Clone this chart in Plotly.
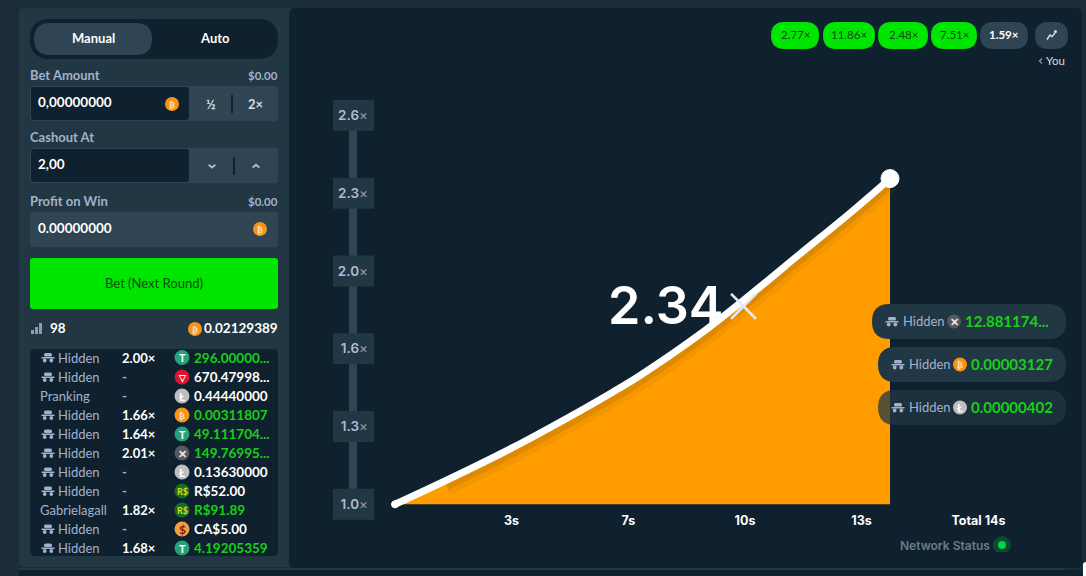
import plotly.graph_objects as go

W = 1086
H = 576
FONT = "Lato"
WIDE_FONT = "Inter"

# the curve
curve_seconds = [0, 1.486, 3.371, 5.286, 6.229, 7.0, 8.714, 10.143, 11.571, 13.0, 14.143]
curve_multiplier = [1.0, 1.1, 1.234, 1.384, 1.462, 1.53, 1.7, 1.861, 2.03, 2.198, 2.34]
current_multiplier = "2.34"

y_ticks = [1.0, 1.32, 1.64, 1.96, 2.28, 2.6]
y_labels = ["1.0", "1.3", "1.6", "2.0", "2.3", "2.6"]
x_ticks = [3.33, 6.67, 10, 13.33, 16.67]
x_labels = ["3s", "7s", "10s", "13s", "Total 14s"]

# past rounds at the top right
chip_labels = ["2.77×", "11.86×", "2.48×", "7.51×", "1.59×"]
chip_lefts = [771, 823, 878, 931, 980]
chip_rights = [819, 875, 928, 977, 1028]

# bets list
bet_names = ["Hidden", "Hidden", "Pranking", "Hidden", "Hidden", "Hidden", "Hidden", "Hidden", "Gabrielagall", "Hidden", "Hidden"]
bet_cashouts = ["2.00×", "-", "-", "1.66×", "1.64×", "2.01×", "-", "-", "1.82×", "-", "1.68×"]
bet_coins = ["usdt", "trx", "ltc", "btc", "usdt", "xrp", "ltc", "brl", "brl", "cad", "usdt"]
bet_amounts = ["296.00000...", "670.47998...", "0.44440000", "0.00311807", "49.111704...", "149.76995...",
               "0.13630000", "R$52.00", "R$91.89", "CA$5.00", "4.19205359"]
bet_rows_y = [357.5, 377, 396, 415, 434, 453, 472, 491, 510, 529, 548]

# bubbles next to the curve
bubble_coins = ["xrp", "btc", "ltc"]
bubble_amounts = ["12.881174...", "0.00003127", "0.00000402"]

BG = "#1a2c38"
SIDE = "#213743"
DARK = "#0f212e"
MID = "#2f4553"
LABEL = "#a3b1cc"
GREEN = "#00e600"
WIN = "#17d017"
ORANGE = "#ff9d00"

COINS = {
    "btc": ("#f7931a", "₿", "#ffe3b8", 9),
    "usdt": ("#26a17b", "T", "#ffffff", 11),
    "trx": ("#e0142f", "▽", "#ffffff", 9),
    "ltc": ("#bfbfbf", "Ł", "#ffffff", 11),
    "xrp": ("#55585e", "✕", "#e8e8e8", 11),
    "brl": ("#12711f", "R$", "#e6d21a", 9),
    "cad": ("#f0a040", "$", "#7a1c10", 12),
}

shapes = []
notes = []


def px(x):
    return x / W


def py(y):
    return 1 - y / H


def rect(x0, y0, x1, y1, color, r=0, layer="below", opacity=1):
    xa, xb, ya, yb = px(x0), px(x1), py(y0), py(y1)
    rx, ry = r / W, r / H
    path = (f"M{xa + rx},{ya} L{xb - rx},{ya} Q{xb},{ya} {xb},{ya - ry} L{xb},{yb + ry} Q{xb},{yb} {xb - rx},{yb} "
            f"L{xa + rx},{yb} Q{xa},{yb} {xa},{yb + ry} L{xa},{ya - ry} Q{xa},{ya} {xa + rx},{ya} Z")
    shapes.append(dict(type="path", path=path, xref="paper", yref="paper", fillcolor=color,
                       line=dict(width=0), layer=layer, opacity=opacity))


def circle(x, y, r, color, layer="below", opacity=1):
    shapes.append(dict(type="circle", xref="paper", yref="paper", x0=px(x - r), x1=px(x + r),
                       y0=py(y + r), y1=py(y - r), fillcolor=color, line=dict(width=0),
                       layer=layer, opacity=opacity))


def stroke(points, color, width=2, layer="below"):
    path = "M" + " L".join(f"{px(x)},{py(y)}" for x, y in points)
    shapes.append(dict(type="path", path=path, xref="paper", yref="paper",
                       line=dict(color=color, width=width), layer=layer))


def text(x, y, s, size=12, color="#ffffff", anchor="left", weight=700, opacity=1, family=FONT):
    notes.append(dict(x=px(x), y=py(y), xref="paper", yref="paper", text=s, showarrow=False,
                      xanchor=anchor, yanchor="middle", opacity=opacity,
                      font=dict(family=family, size=size, color=color, weight=weight),
                      borderpad=0, borderwidth=0))


def coin(x, y, kind, r=7.5, layer="below", opacity=1):
    color, glyph, ink, size = COINS[kind]
    circle(x, y, r, color, layer, opacity)
    text(x, y, glyph, size=size, color=ink, anchor="center", opacity=opacity)


def spy(x, y, color=LABEL, layer="below", opacity=1):
    # the little hat and glasses in front of hidden names
    rect(x - 4, y - 4.5, x + 4, y - 1, color, 1.5, layer, opacity)
    rect(x - 6.5, y - 0.5, x + 6.5, y + 1, color, 0, layer, opacity)
    circle(x - 3.3, y + 3, 1.9, color, layer, opacity)
    circle(x + 3.3, y + 3, 1.9, color, layer, opacity)


# page panels
rect(19, 570, 1082, 576, DARK)
rect(19, 568, 1065, 570, SIDE)
rect(19, 8, 295, 567, SIDE, 5)
rect(289, 8, 1082, 568, DARK, 6)
rect(1083, 562, 1090, 580, "#ffffff", 3, layer="above")

# mode toggle
rect(30, 19, 278, 59, DARK, 20)
rect(34, 23, 152, 55, MID, 16)
text(93, 38, "Manual", 13, anchor="center")
text(215, 38, "Auto", 13, anchor="center")

# bet amount
text(30, 75, "Bet Amount", 13, LABEL)
text(278, 75.5, "$0.00", 11.5, LABEL, "right")
rect(30, 86, 278, 121, MID, 3)
rect(31, 87, 189, 120, DARK, 3)
text(38, 102, "0,00000000", 13.5)
coin(172, 104, "btc", 7)
text(211, 104, "½", 13, "#d5dceb", "center")
rect(231, 95, 233, 113, DARK)
text(255, 104, "2×", 13, "#d5dceb", "center")

# cashout
text(30, 137, "Cashout At", 13, LABEL)
rect(30, 148, 278, 183, MID, 3)
rect(31, 149, 189, 182, DARK, 3)
text(38, 164, "2,00", 13.5)
stroke([(208.7, 164.8), (212, 167.5), (215.3, 164.8)], "#b1bad3")
rect(233, 157, 235, 175, DARK)
stroke([(252.7, 167.5), (256, 164.8), (259.3, 167.5)], "#b1bad3")

# profit
text(30, 201, "Profit on Win", 13, LABEL)
text(278, 201.5, "$0.00", 11.5, LABEL, "right")
rect(30, 212, 278, 247, MID, 3)
text(38, 228, "0.00000000", 13.5)
coin(260, 229, "btc", 7)

rect(30, 258, 278, 309, GREEN, 3)
text(154, 283, "Bet (Next Round)", 13, "#054d0b", "center", 400)

# totals row
rect(31, 330, 34, 334, "#8d9bb0")
rect(35, 327, 38, 334, "#8d9bb0")
rect(39, 323, 42, 334, "#8d9bb0")
text(50, 328, "98", 13.5)
coin(195, 329, "btc", 7)
text(278, 328, "0.02129389", 13.5, anchor="right")

# bets list
rect(30, 349, 278, 556, DARK, 5)
for name, cash, kind, amount, y in zip(bet_names, bet_cashouts, bet_coins, bet_amounts, bet_rows_y):
    if name == "Hidden":
        spy(48, y)
        text(58, y, name, 13, LABEL, weight=400)
    else:
        text(40, y, name, 13, LABEL, weight=400)
    text(122, y, cash, 13, "#ffffff" if cash != "-" else LABEL)
    coin(182, y, kind)
    text(194, y, amount, 13.5, WIN if cash != "-" else "#ffffff")

# round history chips
for label, x0, x1 in zip(chip_labels, chip_lefts, chip_rights):
    lost = float(label[:-1]) < 2
    rect(x0, 22, x1, 49, MID if lost else GREEN, 13.5)
    text((x0 + x1) / 2, 35, label, 11.5, "#ffffff" if lost else "#054d0b", "center", 400 if not lost else 700)
rect(1035, 22, 1068, 49, MID, 13.5)
stroke([(1047, 39.5), (1050, 35), (1052, 36.5), (1055, 33)], "#d5dceb", 1.5)
circle(1055.5, 31.5, 1.5, "#d5dceb")
stroke([(1042, 58.5), (1039.5, 61), (1042, 63.5)], "#8d9bb0", 1.2)
text(1046, 60.5, "You", 11.5, "#d5dceb", weight=400)

# y axis track and tick boxes, they follow the axis scale
shapes.append(dict(type="rect", xref="paper", yref="y", x0=px(349), x1=px(357),
                   y0=y_ticks[0], y1=y_ticks[-1], fillcolor=MID, line=dict(width=0), layer="below"))
for t in y_ticks:
    shapes.append(dict(type="rect", xref="paper", yref="y", ysizemode="pixel", yanchor=t,
                       x0=px(333), x1=px(374), y0=-15.5, y1=15.5,
                       fillcolor=SIDE, line=dict(width=0), layer="below"))

# bubbles
bubble_y = [321.5, 364.5, 407.5]
bubble_left = [872, 878, 878]
bubble_fade = [1, 1, 0.75]
for kind, amount, y, x0, fade in zip(bubble_coins, bubble_amounts, bubble_y, bubble_left, bubble_fade):
    rect(x0, y - 17.5, 1066, y + 17.5, SIDE, 17.5, "above", fade)
    spy(x0 + 20, y, layer="above")
    text(x0 + 31, y - 0.5, "Hidden", 13, LABEL, weight=400)
    coin(x0 + 82, y, kind, 7, layer="above")
    text(x0 + 93, y - 0.5, amount, 15, WIN)

# network status
text(990, 545, "Network Status", 12, "#6b7c88", "right", 600, family=WIDE_FONT)
circle(1002, 545, 9, "#0b4a30")
rect(990, 552, 1014, 556, DARK)
circle(1002, 545, 4, "#00d43e")

text(685, 301,
     f'{current_multiplier}<span style="font-size:62px;font-weight:200;color:#e6e9ef">×</span>',
     52, anchor="center", weight=600, family=WIDE_FONT)

fig = go.Figure()
fig.add_trace(go.Scatter(x=[curve_seconds[0], curve_seconds[-1]], y=[1.0, 1.0], mode="lines",
                         line=dict(width=0), hoverinfo="skip"))
fig.add_trace(go.Scatter(x=curve_seconds, y=curve_multiplier, mode="lines", fill="tonexty",
                         fillcolor=ORANGE, line=dict(width=0, shape="spline"), hoverinfo="skip"))
# soft dark edge under the white line, it starts past the first point so it stays on the fill
shadow_x = curve_seconds[1:]
for offset, width, alpha in [(0.035, 14, 0.1), (0.025, 8, 0.2)]:
    fig.add_trace(go.Scatter(x=shadow_x, y=[m - offset for m in curve_multiplier[1:]], mode="lines",
                             line=dict(color=f"rgba(140,85,0,{alpha})", width=width, shape="spline"),
                             hoverinfo="skip"))
fig.add_trace(go.Scatter(x=curve_seconds, y=curve_multiplier, mode="lines",
                         line=dict(color="#ffffff", width=7, shape="spline"), hoverinfo="skip"))
fig.add_trace(go.Scatter(x=[curve_seconds[0], curve_seconds[-1]], y=[curve_multiplier[0], curve_multiplier[-1]],
                         mode="markers", marker=dict(color="#ffffff", size=[7, 18], opacity=1), hoverinfo="skip"))

# 35 px per second with 0s at x=395, 243.1 px per 1x with 1.0x at y=504.3
fig.update_layout(
    width=W, height=H, margin=dict(l=0, r=0, t=0, b=0),
    paper_bgcolor=BG, plot_bgcolor="rgba(0,0,0,0)",
    showlegend=False, shapes=shapes, annotations=notes,
    font=dict(family=FONT),
    xaxis=dict(domain=[0, 1], range=[-395 / 35, (W - 395) / 35], anchor="free", position=py(511),
               tickvals=x_ticks, ticktext=x_labels, showgrid=False, zeroline=False, showline=False,
               ticks="", tickfont=dict(family=WIDE_FONT, size=12.5, color="#ffffff", weight=700)),
    yaxis=dict(domain=[0, 1], range=[1 - (H - 504.3) / 243.1, 1 + 504.3 / 243.1], anchor="free", position=px(368),
               tickvals=y_ticks,
               ticktext=[f'{v}<span style="color:#8d9bb0;font-weight:400">×</span>' for v in y_labels],
               showgrid=False, zeroline=False, showline=False, ticks="",
               tickfont=dict(family=WIDE_FONT, size=13.5, color="#b1bad3", weight=600)),
)

fig.write_html("out.html", config=dict(displayModeBar=False),
               post_script="document.body.style.margin='0';document.body.style.overflow='hidden';")
